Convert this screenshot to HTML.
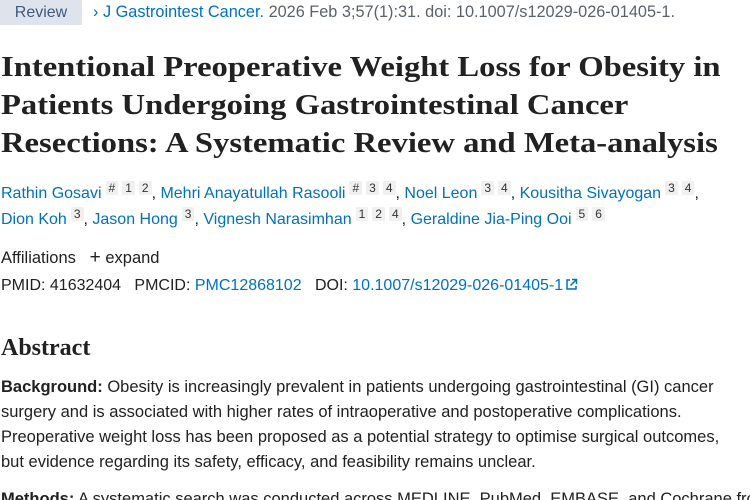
<!DOCTYPE html>
<html><head><meta charset="utf-8"><style>
html,body{margin:0;padding:0;background:#fff;width:750px;height:500px;overflow:hidden}
body{font-family:"Liberation Sans","DejaVu Sans",sans-serif;color:#212121;position:relative}
.l{position:absolute;left:1px;white-space:nowrap}
.a{color:#0071bc}
.g{color:#5b616b}
.badge{position:absolute;left:0;top:0;width:82px;height:25px;background:#dfe4ec;color:#3c5a80;font-size:16px;line-height:25px;text-align:center}
.title{font-family:"Liberation Serif","DejaVu Serif",serif;font-weight:bold;font-size:29px;color:#212121;transform:scaleX(1.125);transform-origin:0 0}
.body{font-size:16.5px;line-height:25px}
.au{font-size:16px;line-height:25px}
sup{font-size:12px;background:#f0f0f0;color:#333;padding:0 3px;margin-left:4px;vertical-align:6px;line-height:12px;border-radius:1px}
h2{font-family:"Liberation Serif","DejaVu Serif",serif;font-weight:bold;font-size:24px;margin:0}
</style></head><body>
<div class="badge">Review</div>
<div class="l" style="left:93px;top:3px;font-size:16.3px"><span class="a">&#x203A; J Gastrointest Cancer.</span> <span class="g">2026 Feb 3;57(1):31. doi: 10.1007/s12029-026-01405-1.</span></div>

<div class="l title" style="top:51px">Intentional Preoperative Weight Loss for Obesity in</div>
<div class="l title" style="top:89px">Patients Undergoing Gastrointestinal Cancer</div>
<div class="l title" style="top:127px">Resections: A Systematic Review and Meta-analysis</div>

<div class="l au" style="top:181px"><span class="a">Rathin Gosavi</span><sup>#</sup><sup>1</sup><sup>2</sup>, <span class="a">Mehri Anayatullah Rasooli</span><sup>#</sup><sup>3</sup><sup>4</sup>, <span class="a">Noel Leon</span><sup>3</sup><sup>4</sup>, <span class="a">Kousitha Sivayogan</span><sup>3</sup><sup>4</sup>,</div>
<div class="l au" style="top:207px"><span class="a">Dion Koh</span><sup>3</sup>, <span class="a">Jason Hong</span><sup>3</sup>, <span class="a">Vignesh Narasimhan</span><sup>1</sup><sup>2</sup><sup>4</sup>, <span class="a">Geraldine Jia-Ping Ooi</span><sup>5</sup><sup>6</sup></div>

<div class="l body" style="top:245px">Affiliations &nbsp;&nbsp;<span style="font-size:19px">+</span> expand</div>
<div class="l au" style="top:273px">PMID: 41632404 &nbsp;&nbsp;PMCID: <span class="a">PMC12868102</span> &nbsp;&nbsp;DOI: <span class="a">10.1007/s12029-026-01405-1<svg width="13" height="13" viewBox="0 0 13 13" style="margin-left:2px;vertical-align:-1px"><path d="M5 2H2v9h9V8" fill="none" stroke="#0071bc" stroke-width="1.5"/><path d="M7 1.5h4.5V6M11.5 1.5L5.5 7.5" fill="none" stroke="#0071bc" stroke-width="1.5"/></svg></span></div>

<h2 class="l" style="top:335px">Abstract</h2>

<div class="l body" style="top:375px"><b>Background:</b> Obesity is increasingly prevalent in patients undergoing gastrointestinal (GI) cancer</div>
<div class="l body" style="top:400px">surgery and is associated with higher rates of intraoperative and postoperative complications.</div>
<div class="l body" style="top:425px">Preoperative weight loss has been proposed as a potential strategy to optimise surgical outcomes,</div>
<div class="l body" style="top:450px">but evidence regarding its safety, efficacy, and feasibility remains unclear.</div>
<div class="l body" style="top:487px"><b>Methods:</b> A systematic search was conducted across MEDLINE, PubMed, EMBASE, and Cochrane from</div>
</body></html>
